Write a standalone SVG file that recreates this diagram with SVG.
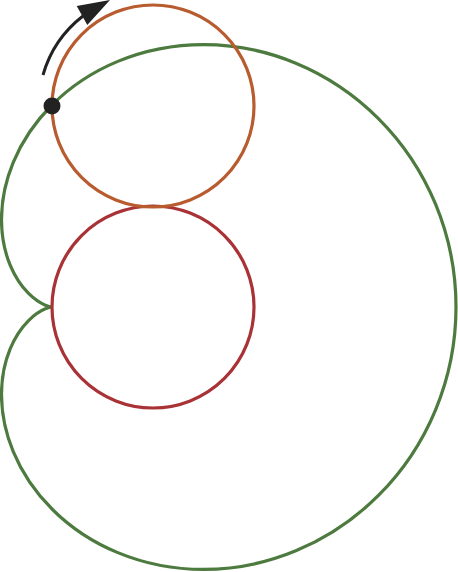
<svg xmlns="http://www.w3.org/2000/svg" width="458" height="572" viewBox="0 0 458 572">
<style>
.curve{fill:none;stroke-width:3.2}
.green{stroke:#4d7a3e}
.orange{stroke:#b85c30}
.red{stroke:#a83236}
.arrow{fill:none;stroke:#222;stroke-width:3}
</style>
<rect width="458" height="572" fill="#fff"/>
<g id="cardioid">
<path class="curve green" d="M456,307 C456,271.744 448.962,236.512 435.586,204.218 C422.21,171.924 402.518,142.611 378.438,118.531 C354.358,94.451 325.929,75.629 295.836,63.164 C265.743,50.699 234.032,44.593 203.5,44.593 C172.968,44.593 143.654,50.679 117.813,61.383 C91.972,72.087 69.628,87.372 52,105 C34.372,122.628 21.462,142.554 13.249,162.383 C5.036,182.212 1.5,201.903 1.5,219.531 C1.5,237.159 5.001,252.699 10.164,265.164 C15.327,277.629 22.11,287.017 28.562,293.469 C35.014,299.921 41.101,303.457 45.352,305.218 C49.603,306.979 52,307 52,307 C52,307 49.603,307.021 45.352,308.782 C41.101,310.543 35.014,314.079 28.562,320.531 C22.11,326.983 15.327,336.371 10.164,348.836 C5.001,361.301 1.5,376.841 1.5,394.469 C1.5,412.097 5.036,431.788 13.249,451.617 C21.462,471.446 34.372,491.372 52,509 C69.628,526.628 91.972,541.913 117.813,552.617 C143.654,563.321 172.968,569.407 203.5,569.407 C234.032,569.407 265.743,563.301 295.836,550.836 C325.929,538.371 354.358,519.549 378.438,495.469 C402.518,471.389 422.21,442.076 435.586,409.782 C448.962,377.488 456,342.256 456,307 Z"/>
</g>
<g id="fixed-circle">
<circle class="curve red" cx="153" cy="307" r="101"/>
</g>
<g id="rolling-circle">
<circle class="curve orange" cx="153" cy="106" r="101"/>
</g>
<g id="connectors">
<path class="arrow" d="M43,75 A114,114 0 0 1 83,16"/>
<polygon points="110,0 76.7,5.9 87.3,25.1" fill="#222"/>
</g>
<g id="point">
<circle cx="52" cy="106" r="8.5" fill="#222"/>
</g>
</svg>
